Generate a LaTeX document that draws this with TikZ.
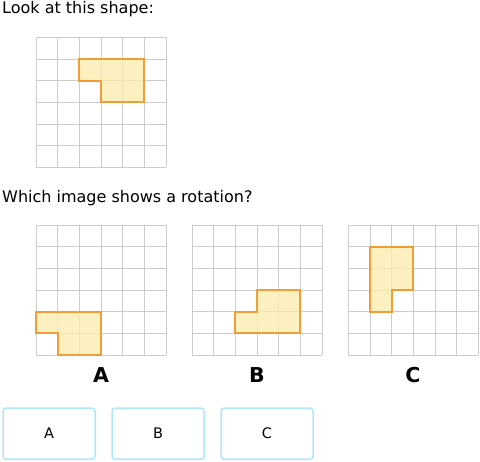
\documentclass[tikz,border=0pt]{standalone}
\usepackage{fontspec}
\setmainfont{DejaVu Sans}
\definecolor{gridgray}{RGB}{204,204,204}
\definecolor{tileedge}{RGB}{242,158,56}
\definecolor{tilefill}{RGB}{251,236,176}
\definecolor{btnedge}{RGB}{173,232,250}

\begin{document}
\begin{tikzpicture}[x=1pt,y=-1pt,
    gridline/.style={gridgray,line width=0.9pt},
    tile/.style={draw=tileedge,line width=1.8pt,fill=tilefill,fill opacity=0.8},
    question/.style={anchor=base west,inner sep=0pt,font=\fontsize{16}{19}\selectfont},
    lbl/.style={inner sep=0pt,font=\fontsize{20.5}{24}\selectfont\bfseries},
    btn/.style={draw=btnedge,line width=1.5pt,rounded corners=3pt,minimum width=92pt,minimum height=51pt,font=\fontsize{14.5}{17}\selectfont}]
    \useasboundingbox (0,0) rectangle (480,462);

    \node[question] (ask) at (2,14) {Look at this shape:};
    \node[question] (which) at (2,203) {Which image shows a rotation?};

    % the four grids
    \foreach \gx/\gy in {36/37.3,36/225,192/225,348.3/225}{
        \begin{scope}[shift={(\gx,\gy)},x=21.667pt,y=-21.667pt]
            \foreach \i in {0,...,6}{
                \draw[gridline] (\i,0)--(\i,6);
                \draw[gridline] (0,\i)--(6,\i);
            }
        \end{scope}
    }

    % shapes
    \begin{scope}[shift={(36,37.3)},x=21.667pt,y=-21.667pt]
        \draw[tile] (2,1)--(5,1)--(5,3)--(3,3)--(3,2)--(2,2)--cycle;
    \end{scope}
    \begin{scope}[shift={(36,225)},x=21.667pt,y=-21.667pt]
        \draw[tile] (0,4)--(3,4)--(3,6)--(1,6)--(1,5)--(0,5)--cycle;
    \end{scope}
    \begin{scope}[shift={(192,225)},x=21.667pt,y=-21.667pt]
        \draw[tile] (2,4)--(3,4)--(3,3)--(5,3)--(5,5)--(2,5)--cycle;
    \end{scope}
    \begin{scope}[shift={(348.3,225)},x=21.667pt,y=-21.667pt]
        \draw[tile] (1,1)--(3,1)--(3,3)--(2,3)--(2,4)--(1,4)--cycle;
    \end{scope}

    \node[lbl] (labA) at (101,375.5) {A};
    \node[lbl] (labB) at (257,375.5) {B};
    \node[lbl] (labC) at (413,375.5) {C};

    \node[btn] (optA) at (49,433.7) {A};
    \node[btn] (optB) at (158,433.7) {B};
    \node[btn] (optC) at (267,433.7) {C};
\end{tikzpicture}
\end{document}
